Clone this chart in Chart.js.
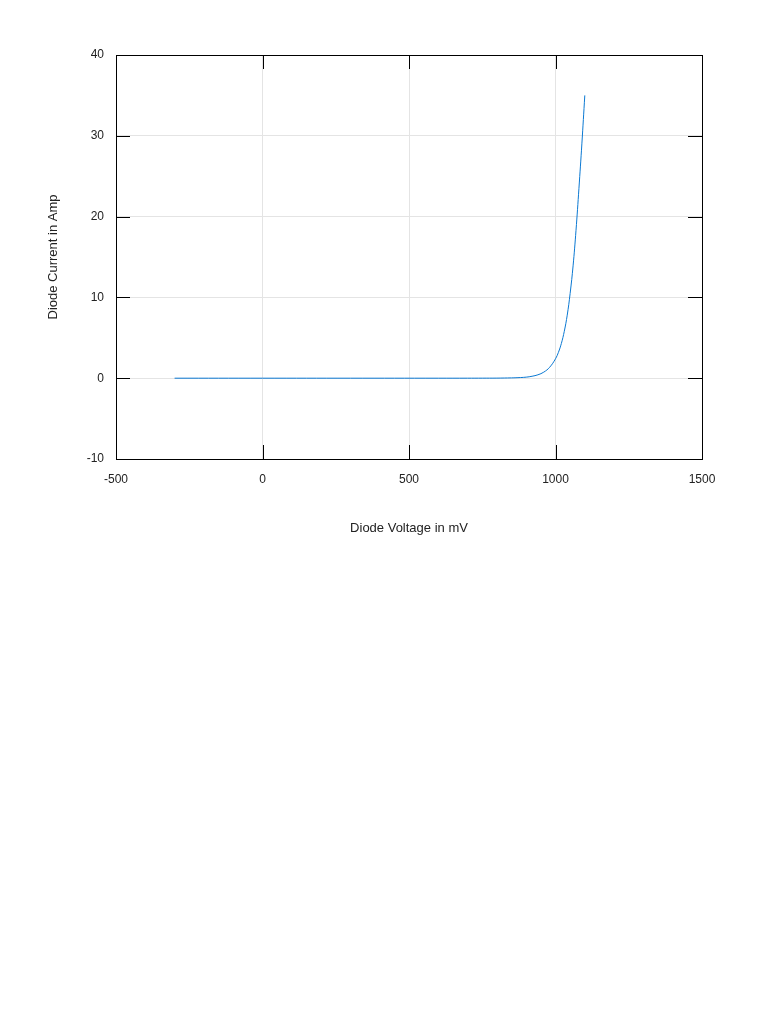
<!DOCTYPE html>
<html lang="en">
<head>
<meta charset="UTF-8">
<title>Diode Current</title>
<style>
  body { margin: 0; background: #fff; }
  #wrap { position: absolute; left: 0; top: 0; width: 768px; height: 540px; }
</style>
</head>
<body>
<div id="wrap"><canvas id="myChart" width="768" height="540"></canvas></div>
<script src="https://cdn.jsdelivr.net/npm/chart.js@4/dist/chart.umd.min.js"></script>
<script>
// diode voltage (mV) and current (A)
var voltage = [-300, 0, 300, 600, 700, 750, 800, 850, 880, 900, 920, 940, 960, 980, 1000, 1010, 1020, 1030, 1040, 1050, 1060, 1070, 1080, 1090, 1100];
var current = [0, 0, 0, 0, 0.002, 0.005, 0.01, 0.04, 0.08, 0.13, 0.24, 0.42, 0.75, 1.35, 2.4, 3.2, 4.3, 5.8, 7.8, 10.5, 13.9, 18.3, 23.5, 29.0, 35.0];
var xTicks = [-500, 0, 500, 1000, 1500];
var yTicks = [-10, 0, 10, 20, 30, 40];

var points = voltage.map(function (v, i) { return { x: v, y: current[i] }; });

// gnuplot-style inner tick marks on all four sides
var innerTicks = {
    id: 'innerTicks',
    afterDraw: function (chart) {
        var ctx = chart.ctx, a = chart.chartArea;
        var xs = chart.scales.x, ys = chart.scales.y;
        ctx.save();
        ctx.strokeStyle = '#000';
        ctx.lineWidth = 1;
        ctx.beginPath();
        xTicks.forEach(function (t) {
            var px = Math.round(xs.getPixelForValue(t)) + 0.5;
            ctx.moveTo(px, a.bottom); ctx.lineTo(px, a.bottom - 14);
            ctx.moveTo(px, a.top); ctx.lineTo(px, a.top + 14);
        });
        yTicks.forEach(function (t) {
            var py = Math.round(ys.getPixelForValue(t)) + 0.5;
            ctx.moveTo(a.left, py); ctx.lineTo(a.left + 14, py);
            ctx.moveTo(a.right, py); ctx.lineTo(a.right - 14, py);
        });
        ctx.stroke();
        ctx.strokeRect(a.left + 0.5, a.top + 0.5, a.right - a.left, a.bottom - a.top);
        ctx.restore();
    }
};

Chart.defaults.font.family = '"Liberation Sans", Arial, sans-serif';
Chart.defaults.font.size = 12;
Chart.defaults.color = '#222';

new Chart(document.getElementById('myChart').getContext('2d'), {
    type: 'line',
    data: {
        datasets: [{
            data: points,
            borderColor: '#0a78d2',
            borderWidth: 1,
            pointRadius: 0,
            tension: 0.4,
            fill: false
        }]
    },
    options: {
        responsive: false,
        animation: false,
        layout: { padding: { top: 55, right: 66, left: 42, bottom: 0 } },
        plugins: { legend: { display: false }, tooltip: { enabled: false } },
        scales: {
            x: {
                type: 'linear', min: -500, max: 1500,
                afterBuildTicks: function (s) { s.ticks = xTicks.map(function (v) { return { value: v }; }); },
                afterFit: function (s) { s.height = 81; },
                grid: { color: '#e4e4e4', drawTicks: false },
                border: { display: false },
                ticks: { padding: 13, maxRotation: 0, callback: function (v) { return String(v); } },
                title: { display: true, text: 'Diode Voltage in mV', font: { size: 13 }, padding: { top: 0 } }
            },
            y: {
                type: 'linear', min: -10, max: 40,
                afterBuildTicks: function (s) { s.ticks = yTicks.map(function (v) { return { value: v }; }); },
                afterFit: function (s) { s.width = 74; },
                grid: { color: '#e4e4e4', drawTicks: false },
                border: { display: false },
                ticks: { padding: 12, callback: function (v) { return String(v); } },
                title: { display: true, text: 'Diode Current in Amp', font: { size: 13 }, padding: { bottom: 0 } }
            }
        }
    },
    plugins: [innerTicks]
});
</script>
</body>
</html>
